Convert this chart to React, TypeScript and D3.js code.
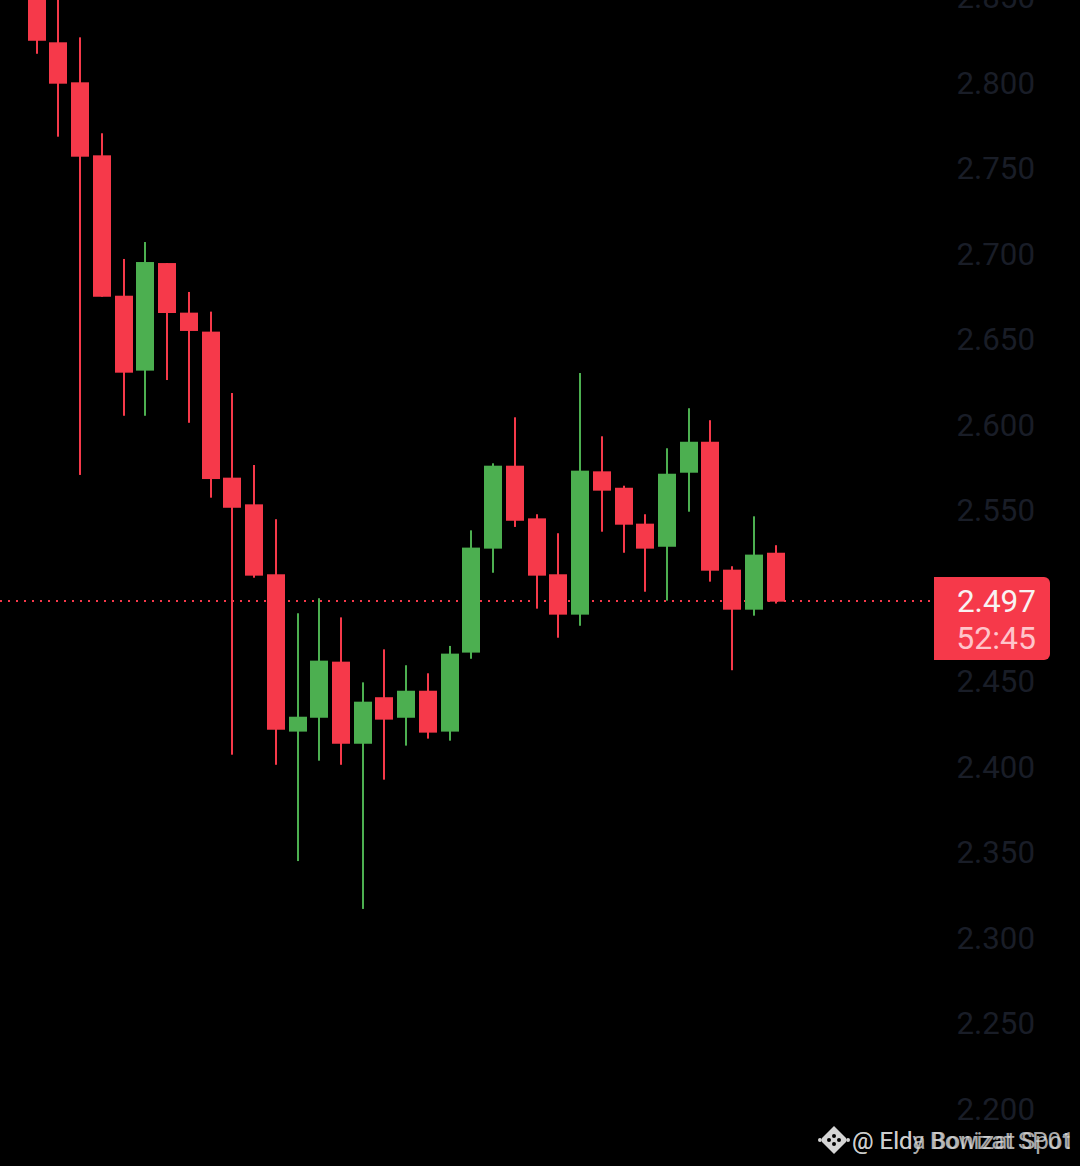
import React, { useEffect, useRef } from 'react'
import * as d3 from 'd3'

const WIDTH = 1080
const HEIGHT = 1166

// candles, left to right
const opens = [2.8544, 2.8238, 2.8004, 2.7577, 2.6756, 2.6318, 2.6947, 2.6657, 2.6546, 2.5692, 2.5536, 2.5127, 2.4207, 2.4288, 2.4616, 2.4136, 2.4408, 2.4288, 2.4446, 2.4207, 2.4669, 2.5277, 2.5762, 2.5454, 2.5127, 2.4891, 2.5729, 2.5633, 2.5423, 2.5288, 2.5721, 2.5902, 2.5154, 2.492, 2.5253]
const highs = [2.8632, 2.8661, 2.8267, 2.7706, 2.6971, 2.707, 2.6947, 2.6778, 2.6663, 2.6187, 2.5766, 2.5449, 2.4899, 2.4987, 2.4875, 2.4495, 2.4688, 2.4595, 2.4548, 2.4708, 2.5384, 2.5776, 2.6045, 2.5478, 2.5367, 2.6304, 2.5934, 2.5645, 2.5478, 2.5864, 2.6098, 2.6028, 2.5174, 2.5466, 2.5297]
const lows = [2.8171, 2.7686, 2.5708, 2.675, 2.6054, 2.6054, 2.6263, 2.6013, 2.5575, 2.4072, 2.5107, 2.4013, 2.345, 2.4037, 2.4013, 2.317, 2.3926, 2.4125, 2.4166, 2.4154, 2.4633, 2.5136, 2.5404, 2.4926, 2.4756, 2.4826, 2.5376, 2.5253, 2.5025, 2.4973, 2.5493, 2.5084, 2.4566, 2.4885, 2.4956]
const closes = [2.8247, 2.7996, 2.7569, 2.675, 2.6306, 2.6953, 2.6655, 2.655, 2.5684, 2.5516, 2.5119, 2.4218, 2.4294, 2.4622, 2.4136, 2.4382, 2.4277, 2.4446, 2.4201, 2.4663, 2.5283, 2.5762, 2.544, 2.5119, 2.4891, 2.5733, 2.5616, 2.5417, 2.5277, 2.5715, 2.5902, 2.5148, 2.492, 2.5242, 2.4967]

const priceTicks = [2.2, 2.25, 2.3, 2.35, 2.4, 2.45, 2.5, 2.55, 2.6, 2.65, 2.7, 2.75, 2.8, 2.85]
const lastPrice = 2.497
const countdown = '52:45'
const watermarks = ['@ Elda Bonizat SP01', '@ Eldy Bowizat Spot']

const RED = '#F6394A'
const GREEN = '#4CAF50'
const FONT = 'Roboto, "Noto Sans", sans-serif'

export default function App() {
  const svgRef = useRef<SVGSVGElement>(null)

  useEffect(() => {
    if (!svgRef.current) return

    const svg = d3.select(svgRef.current)
    svg.selectAll('*').remove()

    const x = d3.scaleLinear().domain([0, opens.length - 1]).range([36.7, 775.7]).interpolate(d3.interpolateRound)
    const y = d3.scaleLinear().domain([2.2, 2.8]).range([1109, 83])

    // Price axis
    const axis = svg
      .append('g')
      .attr('transform', 'translate(1035, 0.4)')
      .call(d3.axisLeft(y).tickValues(priceTicks).tickFormat(d3.format('.3f') as any).tickSize(0).tickPadding(0))
    axis.select('.domain').remove()
    axis
      .selectAll('text')
      .style('font-family', FONT)
      .style('font-size', '31.3px')
      .style('fill', '#191D27')

    // Last price line
    svg
      .append('line')
      .attr('x1', 0)
      .attr('x2', 934)
      .attr('y1', Math.round(y(lastPrice)))
      .attr('y2', Math.round(y(lastPrice)))
      .attr('stroke', RED)
      .attr('stroke-width', 2)
      .attr('stroke-dasharray', '2 6')

    // Candles
    const candles = svg
      .append('g')
      .selectAll('g')
      .data(d3.range(opens.length))
      .join('g')
      .attr('fill', (i) => (closes[i] >= opens[i] ? GREEN : RED))

    candles
      .append('rect')
      .attr('x', (i) => x(i) - 1)
      .attr('width', 2)
      .attr('y', (i) => y(highs[i]))
      .attr('height', (i) => y(lows[i]) - y(highs[i]))

    candles
      .append('rect')
      .attr('x', (i) => x(i) - 9)
      .attr('width', 18)
      .attr('y', (i) => y(Math.max(opens[i], closes[i])))
      .attr('height', (i) => Math.abs(y(opens[i]) - y(closes[i])))

    // Price tag
    svg
      .append('path')
      .attr('d', 'M934 577H1044a6 6 0 0 1 6 6V654a6 6 0 0 1 -6 6H934Z')
      .attr('fill', RED)

    svg
      .append('text')
      .attr('x', 1036)
      .attr('y', 612)
      .attr('text-anchor', 'end')
      .style('font-family', FONT)
      .style('font-size', '31.5px')
      .style('fill', '#F8F3F3')
      .text(d3.format('.3f')(lastPrice))

    svg
      .append('text')
      .attr('x', 1036)
      .attr('y', 649)
      .attr('text-anchor', 'end')
      .style('font-family', FONT)
      .style('font-size', '32px')
      .style('fill', '#FFC4CA')
      .text(countdown)

    // Watermark
    const logo = svg.append('g').attr('transform', 'translate(834, 1140)').attr('fill', '#D5D5D5')
    logo.append('path').attr('d', 'M0 -14L12 -2L12 2L0 14L-12 2L-12 -2Z')
    const dots: [number, number][] = [
      [-14, 0],
      [14, 0],
      [-5, 0],
      [5, 0],
      [0, -4],
      [0, 4],
    ]
    logo
      .selectAll('circle')
      .data(dots)
      .join('circle')
      .attr('cx', (d) => d[0])
      .attr('cy', (d) => d[1])
      .attr('r', 2)
      .attr('fill', (d) => (Math.abs(d[0]) > 11 ? '#D5D5D5' : '#000'))

    svg
      .append('g')
      .selectAll('text')
      .data(watermarks)
      .join('text')
      .attr('x', 852)
      .attr('y', 1149)
      .style('font-family', FONT)
      .style('font-size', '24px')
      .style('fill', '#D8D8D8')
      .style('fill-opacity', 0.8)
      .text((d) => d)
  }, [])

  return (
    <svg
      ref={svgRef}
      width={WIDTH}
      height={HEIGHT}
      style={{ position: 'fixed', left: 0, top: 0, background: '#000', display: 'block' }}
    />
  )
}
